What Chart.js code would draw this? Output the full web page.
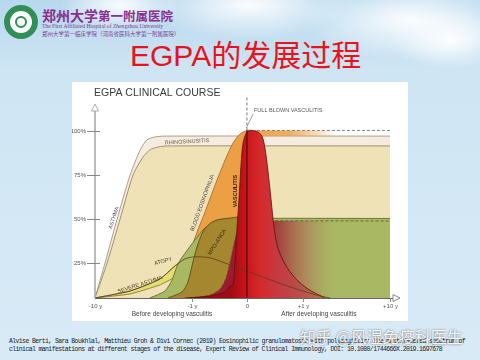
<!DOCTYPE html>
<html>
<head>
<meta charset="utf-8">
<script src="https://cdn.jsdelivr.net/npm/chart.js@4.4.1/dist/chart.umd.min.js"></script>
<style>
html, body { margin: 0; padding: 0; }
body {
  width: 480px; height: 360px; overflow: hidden; position: relative;
  background: linear-gradient(180deg, #b7d8ee 0%, #cfe5f3 20%, #d8eaf6 100%);
  font-family: "Liberation Sans", Arial, sans-serif;
}
.cloud { position: absolute; border-radius: 50%;
  background: radial-gradient(ellipse at center, rgba(255,255,255,0.95) 0%, rgba(255,255,255,0) 70%); }
#logo { position: absolute; left: 4px; top: 5px; width: 34px; height: 34px; border-radius: 50%;
  background: #2f8f55; }
#logo .in { position: absolute; left: 6px; top: 6px; width: 22px; height: 22px; border-radius: 50%; background: #fff; }
#logo .mk { position: absolute; left: 5px; top: 5px; width: 12px; height: 12px; border-radius: 50%; border: 2px solid #2f8f55; box-sizing: border-box; }
#hname { position: absolute; left: 42px; top: 6px; color: #8b2f8e; font-weight: bold; white-space: nowrap;
  font-family: "Noto Sans CJK SC", sans-serif; line-height: 17px; }
#hname .big { font-size: 14px; }
#hname .sm { font-size: 12.5px; }
#hen { position: absolute; left: 42px; top: 23px; color: #7b3a8e; font-size: 5.6px; white-space: nowrap; font-family: "Liberation Serif", serif; }
#hcn { position: absolute; left: 42px; top: 30px; color: #7b3a8e; font-size: 5.5px; white-space: nowrap; font-family: "Noto Sans CJK SC", sans-serif; }
#title { position: absolute; left: 130px; top: 38px; color: #e8141b; font-size: 30px; line-height: 36px;
  font-family: "Liberation Sans", "Noto Sans CJK SC", sans-serif; white-space: nowrap; }
#box { position: absolute; left: 72px; top: 82px; width: 336px; height: 239px; background: #fff; }
#cite { position: absolute; left: 9px; top: 338px; font-family: "Liberation Mono", monospace; font-size: 6.5px;
  letter-spacing: -0.62px; line-height: 7.5px; color: #222; white-space: nowrap; }
#mark { position: absolute; left: 300px; top: 324px; font-size: 16px; color: rgba(255,255,255,0.92);
  font-family: "Noto Sans CJK SC", sans-serif; white-space: nowrap;
  text-shadow: 0 0 2px rgba(70,70,70,0.85); }
</style>
</head>
<body>
<div class="cloud" style="left:150px;top:-30px;width:200px;height:70px;"></div>
<div class="cloud" style="left:300px;top:-20px;width:220px;height:80px;"></div>
<div class="cloud" style="left:390px;top:10px;width:120px;height:60px;"></div>
<div class="cloud" style="left:60px;top:-20px;width:120px;height:50px;"></div>

<div id="logo"><div class="in"><div class="mk"></div></div></div>
<div id="hname"><span class="big">郑州大学</span><span class="sm">第一附属医院</span></div>
<div id="hen">The First Affiliated Hospital of Zhengzhou University</div>
<div id="hcn">郑州大学第一临床学院（河南省医科大学第一附属医院）</div>
<div id="title">EGPA的发展过程</div>

<div id="box"><canvas id="c" width="336" height="239"></canvas></div>

<div id="cite">Alvise Berti, Sara Boukhlal, Matthieu Groh &amp; Divi Cornec (2019) Eosinophilic granulomatosis with polyangiitis: the multifaceted spectrum of<br>clinical manifestations at different stages of the disease, Expert Review of Clinical Immunology, DOI: 10.1080/1744666X.2019.1697678</div>
<div id="mark">知乎 @风湿免疫科医生</div>

<script>
// x runs 0..100 along the drawn time axis (-10 y .. +10 y, not to scale)
const xTickPos = [0, 32.9, 51.5, 70.5, 100];
const xTickLabels = ['-10 y', '-1 y', '0', '+1 y', '+10 y'];
const yTickPos = [25, 50, 75, 100];
const yTickLabels = ['25%', '50%', '75%', '100%'];

const rhinoX = [0, 3.4, 7.5, 11.9, 15.3, 17.6, 20.3, 23.7, 100];
const rhinoY = [5, 24.9, 49.9, 74.9, 89.1, 94.8, 96.5, 97.0, 97.0];
const asthmaX = [0, 4.1, 8.5, 12.9, 16.3, 18.6, 21.4, 24.7, 100];
const asthmaY = [5, 24.9, 49.9, 74.9, 85.1, 89.1, 90.8, 91.4, 91.4];
const eosX = [18.6, 24.7, 28.8, 32.2, 34.6, 37.3, 40.7, 44.1, 46.8, 49.2, 51.5, 54.2, 56.6, 57.6];
const eosY = [5, 8.4, 18.1, 31.1, 42.5, 53.9, 69.2, 83.4, 93.1, 98.2, 100.2, 99.9, 94.8, 5];
const eosTailX = [51.5, 100];
const eosTailY = [100.2, 100.2];
const severeX = [0, 11.9, 22.0, 27.1, 30.5, 30.5, 26.1, 22.0, 11.9, 0];
const severeY = [5, 9.0, 15.8, 23.2, 27.2, 17.0, 15.8, 12.4, 7.3, 5];
const greenX = [18.6, 23.7, 26.1, 28.1, 30.8, 33.9, 37.3, 41.7, 49.2, 100];
const greenY = [5, 9.0, 15.2, 24.3, 31.1, 38.0, 44.8, 49.3, 50.2, 50.2];
const ancaX = [24.7, 29.5, 31.5, 33.2, 34.9, 36.9, 39.7, 43.1, 56.6, 58.0];
const ancaY = [5, 8.4, 14.1, 25.5, 35.7, 43.6, 48.2, 49.9, 49.9, 5];
const organX = [32.2, 39.0, 42.4, 44.4, 45.8, 47.1, 48.5, 50.5, 53.2, 100];
const organY = [5, 6.7, 10.1, 16.4, 25.5, 35.7, 43.6, 47.6, 48.75, 48.75];
const vascX = [30.5, 39.0, 44.1, 45.8, 46.8, 47.5, 48.1, 48.8, 49.5, 50.2, 51.5, 53.2, 54.9, 56.6, 57.6, 58.6, 59.7, 60.7, 62.0, 64.4, 67.8, 72.2, 78.0];
const vascY = [5, 6.1, 8.4, 11.8, 12.4, 26.6, 43.6, 60.7, 80.6, 93.1, 99.3, 100.2, 99.6, 97.0, 90.2, 77.7, 60.7, 44.8, 33.4, 24.3, 16.4, 10.1, 5];
const atopyX = [0, 11.9, 22.0, 27.1, 30.5, 33.9, 39.0, 45.8, 55.9, 66.1, 76.3, 79.7];
const atopyY = [5, 9.0, 15.8, 23.2, 27.2, 28.4, 27.8, 23.8, 17.5, 11.3, 6.1, 5];
const onsetX = [51.5, 51.5];
const onsetY = [5, 100.2];
const onsetTopY = [100.2, 120];
const fullX = [51.5, 100];
const fullY = [100.2, 100.2];

const pts = (xs, ys) => xs.map((v, i) => ({ x: v, y: ys[i] }));

// horizontal gradient helper in data units
function hGrad(stops, fallback) {
  return (context) => {
    const chart = context.chart;
    if (!chart.chartArea) return fallback;
    const xs = chart.scales.x;
    const g = chart.ctx.createLinearGradient(xs.getPixelForValue(0), 0, xs.getPixelForValue(100), 0);
    stops.forEach(s => g.addColorStop(s[0] / 100, s[1]));
    return g;
  };
}

const base = { pointRadius: 0, borderWidth: 0.8, tension: 0.25 };

const datasets = [
  { ...base, label: 'Rhinosinusitis', data: pts(rhinoX, rhinoY), fill: 'start', backgroundColor: '#f5ecdf', borderColor: '#9a8a6c', order: 12 },
  { ...base, label: 'Asthma', data: pts(asthmaX, asthmaY), fill: 'start', backgroundColor: '#f0e2b7', borderColor: '#8c7b5a', order: 11 },
  { ...base, label: 'Blood eosinophilia', data: pts(eosX, eosY), fill: 'start', backgroundColor: '#eba046', borderColor: '#9a6a2a', order: 10 },
  { ...base, label: 'Eosinophilia tail', data: pts(eosTailX, eosTailY), fill: { value: 97 }, borderWidth: 0,
    backgroundColor: hGrad([[50, '#eba046'], [66, 'rgba(235,160,70,0.85)'], [82, 'rgba(235,160,70,0)'], [100, 'rgba(235,160,70,0)']], '#eba046'), order: 10 },
  { ...base, label: 'Severe asthma', data: pts(severeX, severeY), fill: 'shape', tension: 0.15, backgroundColor: '#e5df70', borderColor: '#7a7030', order: 9 },
  { ...base, label: 'Green', data: pts(greenX, greenY), fill: 'start', backgroundColor: '#a9b862', borderColor: '#55622a', order: 8 },
  { ...base, label: 'MPO-ANCA', data: pts(ancaX, ancaY), fill: 'start', backgroundColor: '#a5872f', borderColor: '#54420f', order: 7 },
  { ...base, label: 'Organ', data: pts(organX, organY), fill: 'start', borderDash: [3, 2], borderColor: '#4e5a20',
    backgroundColor: hGrad([[0, '#9c1830'], [56, '#9e1a32'], [63, 'rgba(165,55,60,0.85)'], [72, 'rgba(175,100,85,0.5)'], [82, 'rgba(170,160,100,0)'], [100, 'rgba(170,160,100,0)']], '#9c1830'), order: 6 },
  { ...base, label: 'Vasculitis', data: pts(vascX, vascY), fill: 'start', tension: 0.3, borderColor: '#5e0c0c',
    backgroundColor: hGrad([[30, '#8e0c0c'], [46, '#a00c12'], [51, '#c8141a'], [56, '#d42a2a'], [62, '#c63a42'], [70, 'rgba(185,75,70,0.85)'], [78, 'rgba(185,95,60,0.7)']], '#c8141a'), order: 5 },
  { ...base, label: 'Atopy', data: pts(atopyX, atopyY), fill: false, borderColor: '#5a3a20', order: 4 },
  { ...base, label: 'Onset', data: pts(onsetX, onsetY), fill: false, borderColor: '#3a0808', borderWidth: 1, tension: 0, order: 3 },
  { ...base, label: 'Onset top', data: pts(onsetX, onsetTopY), fill: false, borderColor: '#555', borderWidth: 0.8, borderDash: [3, 2], tension: 0, clip: false, order: 3 },
  { ...base, label: 'Full blown', data: pts(fullX, fullY), fill: false, borderColor: '#666', borderWidth: 0.8, borderDash: [3, 2], tension: 0, order: 2 }
];

const decor = {
  id: 'decor',
  afterDraw(chart) {
    const { ctx, scales: { x, y }, chartArea: a } = chart;
    const px = v => x.getPixelForValue(v), py = v => y.getPixelForValue(v);
    ctx.save();
    // title
    ctx.fillStyle = '#3a3a3a';
    ctx.font = '10.5px "Liberation Sans", Arial, sans-serif';
    ctx.textBaseline = 'middle';
    ctx.textAlign = 'left';
    ctx.fillText('EGPA CLINICAL COURSE', 22, 11);

    // y axis
    ctx.strokeStyle = '#aaa';
    ctx.lineWidth = 1.6;
    ctx.beginPath(); ctx.moveTo(a.left, a.bottom); ctx.lineTo(a.left, a.top + 8); ctx.stroke();
    ctx.lineWidth = 1;
    ctx.beginPath();
    ctx.moveTo(a.left, a.top + 1); ctx.lineTo(a.left - 3.5, a.top + 8); ctx.lineTo(a.left + 3.5, a.top + 8); ctx.closePath();
    ctx.stroke();
    // x axis
    ctx.strokeStyle = '#666';
    ctx.beginPath(); ctx.moveTo(a.left, a.bottom + 0.5); ctx.lineTo(a.right + 3, a.bottom + 0.5); ctx.stroke();
    ctx.strokeStyle = '#888';
    ctx.beginPath();
    ctx.moveTo(a.right + 10, a.bottom); ctx.lineTo(a.right + 3, a.bottom - 3.5); ctx.lineTo(a.right + 3, a.bottom + 3.5); ctx.closePath();
    ctx.stroke();

    // y ticks
    ctx.font = '6px "Liberation Sans", Arial, sans-serif';
    ctx.fillStyle = '#555';
    ctx.textAlign = 'right';
    ctx.strokeStyle = '#888';
    yTickPos.forEach((v, i) => {
      const yy = Math.round(py(v)) + 0.5;
      ctx.beginPath(); ctx.moveTo(a.left - 8, yy); ctx.lineTo(a.left + 5, yy); ctx.stroke();
      ctx.fillText(yTickLabels[i], a.left - 9, yy);
    });
    // x ticks
    ctx.textAlign = 'center';
    ctx.textBaseline = 'top';
    xTickPos.forEach((v, i) => {
      const xx = Math.round(px(v)) + 0.5;
      if (i > 0) { ctx.beginPath(); ctx.moveTo(xx, a.bottom); ctx.lineTo(xx, a.bottom + 4); ctx.stroke(); }
      ctx.fillText(xTickLabels[i], xx, a.bottom + 5);
    });
    ctx.font = '6.5px "Liberation Sans", Arial, sans-serif';
    ctx.fillStyle = '#444';
    ctx.fillText('Before developing vasculitis', px(26.1), a.bottom + 13);
    ctx.fillText('After developing vasculitis', px(75.9), a.bottom + 13);

    // curve labels
    const lab = (t, u, v, deg, color, bold) => {
      ctx.save();
      ctx.translate(px(u), py(v));
      ctx.rotate(deg * Math.PI / 180);
      ctx.font = (bold ? 'bold ' : '') + '5.5px "Liberation Sans", Arial, sans-serif';
      ctx.fillStyle = color;
      ctx.textAlign = 'center';
      ctx.textBaseline = 'middle';
      ctx.fillText(t, 0, 0);
      ctx.restore();
    };
    lab('RHINOSINUSITIS', 31.2, 93.8, -3, '#6a5a40');
    lab('ASTHMA', 6.4, 50.5, -72, '#45456a');
    lab('ATOPY', 23.1, 25.8, -15, '#4a3a20');
    lab('SEVERE ASTHMA', 15.3, 12.6, -18, '#4a4020');
    lab('BLOOD EOSINOPHILIA', 36.4, 59, -70, '#3a3a50');
    lab('VASCULITIS', 47.7, 65.8, -90, '#3a1a00', true);
    lab('MPO-ANCA', 41.4, 36.8, -58, '#3a2a08');

    ctx.font = '5.5px "Liberation Sans", Arial, sans-serif';
    ctx.fillStyle = '#555';
    ctx.textAlign = 'left';
    ctx.textBaseline = 'middle';
    ctx.fillText('FULL BLOWN VASCULITIS', px(53.9), py(111.8));
    ctx.strokeStyle = '#777';
    ctx.lineWidth = 0.7;
    ctx.beginPath(); ctx.moveTo(px(53.6), py(109.6)); ctx.lineTo(px(51.3), py(101.6)); ctx.stroke();
    ctx.restore();
  }
};

new Chart(document.getElementById('c'), {
  type: 'line',
  data: { datasets },
  options: {
    responsive: false,
    animation: false,
    layout: { padding: { left: 23, right: 18, top: 21, bottom: 23 } },
    scales: {
      x: { type: 'linear', min: 0, max: 100, display: false },
      y: { type: 'linear', min: 5, max: 115.8, display: false }
    },
    plugins: { legend: { display: false }, tooltip: { enabled: false } }
  },
  plugins: [decor]
});
</script>
</body>
</html>
